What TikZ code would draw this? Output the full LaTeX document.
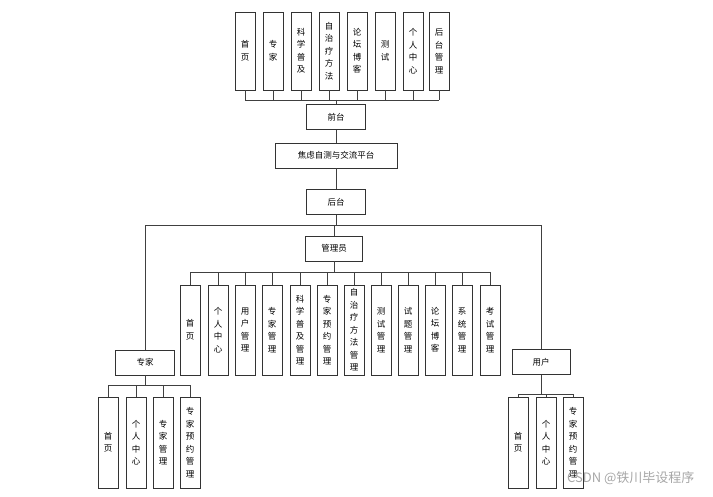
\documentclass[tikz,border=0pt]{standalone}
\usepackage{fontspec}
\setmainfont{Noto Sans CJK SC}
\begin{document}
\begin{tikzpicture}[x=1pt,y=-1pt,
  hb/.style={draw=black!80,line width=0.9pt,minimum height=25pt,inner sep=1pt,font=\fontsize{8.5}{10}\selectfont},
  vb/.style={draw=black!80,line width=0.9pt,minimum width=20pt,align=center,inner sep=1pt,font=\fontsize{8.5}{12.5}\selectfont},
  ln/.style={draw=black!75,line width=0.8pt}]
\useasboundingbox (0,0) rectangle (713,497);
% top
\node[vb,minimum height=78pt] (t1) at (245,51) {首\\页};
\node[vb,minimum height=78pt] (t2) at (273,51) {专\\家};
\node[vb,minimum height=78pt] (t3) at (301,51) {科\\学\\普\\及};
\node[vb,minimum height=78pt] (t4) at (329,51) {自\\治\\疗\\方\\法};
\node[vb,minimum height=78pt] (t5) at (357,51) {论\\坛\\博\\客};
\node[vb,minimum height=78pt] (t6) at (385,51) {测\\试};
\node[vb,minimum height=78pt] (t7) at (413,51) {个\\人\\中\\心};
\node[vb,minimum height=78pt] (t8) at (439,51) {后\\台\\管\\理};
\node[hb,minimum width=59pt] (qt) at (336,117) {前台};
\node[hb,minimum width=122pt] (pt) at (336,155.5) {焦虑自测与交流平台};
\node[hb,minimum width=59pt] (ht) at (336,202) {后台};
\node[hb,minimum width=57pt] (gl) at (334,248.5) {管理员};
\node[hb,minimum width=59pt] (zj) at (145,362.5) {专家};
\node[hb,minimum width=58pt] (yh) at (541,362) {用户};
\coordinate (tb) at (336,100);
\foreach \i in {1,...,8}{\draw[ln] (t\i.south) -- (t\i.south|-tb);}
\draw[ln] (t1.south|-tb) -- (t8.south|-tb);
\draw[ln] (tb) -- (qt.north);
\draw[ln] (qt) -- (pt) -- (ht);
\coordinate (hl) at (336,225);
\draw[ln] (ht.south) -- (hl);
\draw[ln] (gl.north) -- (gl.north|-hl);
\draw[ln] (zj.north) -- (zj.north|-hl) -- (yh.north|-hl) -- (yh.north);
% admin
\foreach \x/\n/\t in {190/a1/{首\\页},218/a2/{个\\人\\中\\心},245/a3/{用\\户\\管\\理},272/a4/{专\\家\\管\\理},300/a5/{科\\学\\普\\及\\管\\理},327/a6/{专\\家\\预\\约\\管\\理},354/a7/{自\\治\\疗\\方\\法\\管\\理},381/a8/{测\\试\\管\\理},408/a9/{试\\题\\管\\理},435/a10/{论\\坛\\博\\客},462/a11/{系\\统\\管\\理},490/a12/{考\\试\\管\\理}}{
  \node[vb,minimum height=90pt] (\n) at (\x,330) {\t};
  \draw[ln] (\n.north) -- (\x,272);}
\draw[ln] (a1.north|-0,272) -- (a12.north|-0,272);
\draw[ln] (gl.south) -- (gl.south|-0,272);
% expert
\foreach \x/\n/\t in {108/e1/{首\\页},136/e2/{个\\人\\中\\心},163/e3/{专\\家\\管\\理},190/e4/{专\\家\\预\\约\\管\\理}}{
  \node[vb,minimum height=91pt] (\n) at (\x,442.5) {\t};
  \draw[ln] (\n.north) -- (\x,385);}
\draw[ln] (e1.north|-0,385) -- (e4.north|-0,385);
\draw[ln] (zj.south) -- (zj.south|-0,385);
% user
\foreach \x/\n/\t in {518/u1/{首\\页},546/u2/{个\\人\\中\\心},573/u3/{专\\家\\预\\约\\管\\理}}{
  \node[vb,minimum height=91pt] (\n) at (\x,442.5) {\t};
  \draw[ln] (\n.north) -- (\x,394);}
\draw[ln] (u1.north|-0,394) -- (u3.north|-0,394);
\draw[ln] (yh.south) -- (yh.south|-0,394);
\node[text=black!35,font=\fontsize{13}{14}\selectfont,anchor=east] (wm) at (698,478) {CSDN @铁川毕设程序};
\end{tikzpicture}
\end{document}
